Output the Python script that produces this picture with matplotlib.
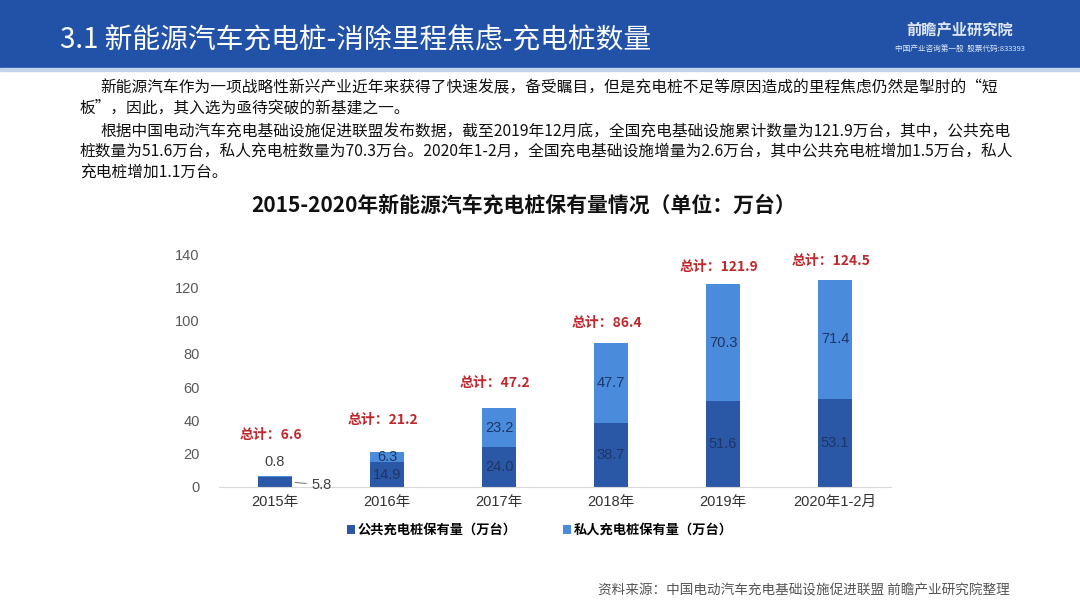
import matplotlib
matplotlib.use('Agg')
import matplotlib.pyplot as plt
import numpy as np
from matplotlib.patches import Rectangle

plt.rcParams['font.family'] = ['Noto Sans CJK SC', 'DejaVu Sans']
NUMFONT = ['Liberation Sans', 'Noto Sans CJK SC']

# data
years = ['2015年', '2016年', '2017年', '2018年', '2019年', '2020年1-2月']
public = [5.8, 14.9, 24.0, 38.7, 51.6, 53.1]
private = [0.8, 6.3, 23.2, 47.7, 70.3, 71.4]
totals = [6.6, 21.2, 47.2, 86.4, 121.9, 124.5]
total_offsets = [41, 32, 25, 20, 17, 19]   # px above bar top for the 总计 labels
yticks = [0, 20, 40, 60, 80, 100, 120, 140]

c_pub = '#2A57A6'
c_pri = '#4A8BDB'
c_val = '#1E3566'
c_red = '#C0282D'

fig = plt.figure(figsize=(10.8, 6.14), dpi=100)

# header band
fig.patches.append(Rectangle((0, 1 - 68/614), 1, 68/614, transform=fig.transFigure,
                             color='#2252A8', zorder=0))
fig.patches.append(Rectangle((0, 1 - 71/614), 1, 3/614, transform=fig.transFigure,
                             color='#C3D4EA', zorder=0))
fig.text(60/1080, 1 - 40/614, '3.1 新能源汽车充电桩-消除里程焦虑-充电桩数量',
         color='white', fontsize=20, va='center', ha='left')
fig.text(960/1080, 1 - 30/614, '前瞻产业研究院', color='white', fontsize=11,
         fontweight='bold', va='center', ha='center', alpha=0.85)
fig.text(960/1080, 1 - 50/614, '中国产业咨询第一股  股票代码:833393', color='#DDE6F5',
         fontsize=5.5, va='center', ha='center')

# paragraph
para = [
    (100, 88, '新能源汽车作为一项战略性新兴产业近年来获得了快速发展，备受瞩目，但是充电桩不足等原因造成的里程焦虑仍然是掣肘的“短'),
    (80, 108, '板”，因此，其入选为亟待突破的新基建之一。'),
    (100, 132, '根据中国电动汽车充电基础设施促进联盟发布数据，截至2019年12月底，全国充电基础设施累计数量为121.9万台，其中，公共充电'),
    (80, 152, '桩数量为51.6万台，私人充电桩数量为70.3万台。2020年1-2月，全国充电基础设施增量为2.6万台，其中公共充电桩增加1.5万台，私人'),
    (80, 172, '充电桩增加1.1万台。'),
]
for px, py, s in para:
    fig.text(px/1080, 1 - py/614, s, fontsize=11.3, color='#111111', va='center', ha='left')

fig.text(524/1080, 1 - 205/614, '2015-2020年新能源汽车充电桩保有量情况（单位：万台）',
         fontsize=15, fontweight='bold', color='#111111', ha='center', va='center')

ax = fig.add_axes([219/1080, 1 - 487/614, 672/1080, 233/614])
x = np.arange(len(years))
w = 0.31
b1 = ax.bar(x, public, w, color=c_pub, label='公共充电桩保有量（万台）')
b2 = ax.bar(x, private, w, bottom=public, color=c_pri, label='私人充电桩保有量（万台）')

for i in range(len(years)):
    if i == 0:
        ax.annotate(f'{public[i]:.1f}', xy=(x[i] + w/2, public[i]/2), xytext=(14, -2),
                    textcoords='offset points', fontsize=10.5, color='#404040',
                    family=NUMFONT, va='center', ha='left',
                    arrowprops=dict(arrowstyle='-', color='#808080', lw=0.8))
        ax.annotate(f'{private[i]:.1f}', xy=(x[i], totals[i]), xytext=(0, 5),
                    textcoords='offset points', fontsize=10.5, color='#404040',
                    family=NUMFONT, va='bottom', ha='center')
    else:
        ax.text(x[i], public[i]/2, f'{public[i]:.1f}', fontsize=10.5, color=c_val,
                family=NUMFONT, ha='center', va='center')
        ax.text(x[i], public[i] + private[i]/2, f'{private[i]:.1f}', fontsize=10.5,
                color=c_val, family=NUMFONT, ha='center', va='center')
    ax.annotate(f'总计：{totals[i]}', xy=(x[i], totals[i]),
                xytext=(-3, total_offsets[i] / 100 * 72), textcoords='offset points',
                fontsize=10, fontweight='bold', color=c_red, ha='center', va='center',
                annotation_clip=False)

ax.set_xlim(-0.5, len(years) - 0.5)
ax.set_ylim(0, 140)
ax.set_yticks(yticks)
ax.set_yticklabels([str(v) for v in yticks], family=NUMFONT)
ax.set_xticks(x)
ax.set_xticklabels(years, fontsize=10.5, color='#333333', family=NUMFONT)
ax.tick_params(axis='y', length=0, labelsize=10.5, labelcolor='#595959', pad=14)
ax.tick_params(axis='x', length=0, pad=6)
for s in ['top', 'right', 'left']:
    ax.spines[s].set_visible(False)
ax.spines['bottom'].set_color('#D9D9D9')

leg = fig.legend(handles=[b1, b2], loc='center', bbox_to_anchor=(540/1080, 1 - 530/614),
                 ncol=2, frameon=False, handlelength=0.6, handleheight=0.6,
                 handletextpad=0.2, columnspacing=3.5,
                 prop={'size': 9.5, 'weight': 'bold'})

fig.text(1010/1080, 1 - 590/614, '资料来源：中国电动汽车充电基础设施促进联盟 前瞻产业研究院整理',
         fontsize=9.8, color='#555555', ha='right', va='center')

fig.savefig('out.png', dpi=100)
